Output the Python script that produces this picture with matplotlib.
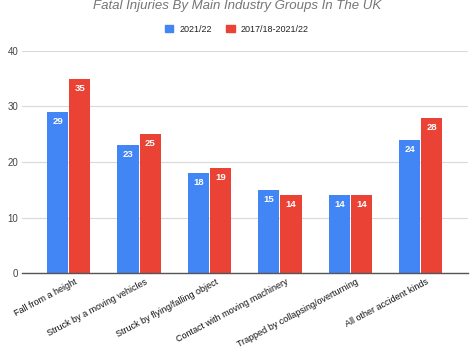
import matplotlib.pyplot as plt
import numpy as np
from matplotlib.patches import Patch

plt.rcParams['font.family'] = ['Liberation Sans', 'DejaVu Sans']

categories = ['Fall from a height', 'Struck by a moving vehicles',
              'Struck by flying/falling object', 'Contact with moving machinery',
              'Trapped by collapsing/overturning', 'All other accident kinds']
recent = [29, 23, 18, 15, 14, 24]
average = [35, 25, 19, 14, 14, 28]
series_names = ['2021/22', '2017/18-2021/22']
yticks = [0, 10, 20, 30, 40]

blue = '#4285F4'
red = '#EA4335'

fig = plt.figure(figsize=(4.74, 3.58), dpi=100)
ax = fig.add_axes([0.046, 0.237, 0.941, 0.621])

x = np.arange(len(categories))
w = 0.30
gap = 0.008
b1 = ax.bar(x - w / 2 - gap, recent, w, color=blue, zorder=3)
b2 = ax.bar(x + w / 2 + gap, average, w, color=red, zorder=3)

for bars, vals in ((b1, recent), (b2, average)):
    for bar, v in zip(bars, vals):
        ax.text(bar.get_x() + bar.get_width() / 2, v - 0.9, str(v),
                ha='center', va='top', fontsize=6.8, color='white',
                fontweight='bold', zorder=4)

ax.set_xlim(-0.667, 5.67)
ax.set_ylim(0, 40)
ax.set_yticks(yticks)
ax.set_yticklabels([str(t) for t in yticks], fontsize=7, color='#444444')
ax.yaxis.grid(True, color='#d9d9d9', linewidth=0.8, zorder=0)
ax.tick_params(axis='y', length=0, pad=2.5)
ax.tick_params(axis='x', length=0, pad=3)
for s in ['top', 'right', 'left']:
    ax.spines[s].set_visible(False)
ax.spines['bottom'].set_color('#555555')
ax.spines['bottom'].set_linewidth(1.0)
ax.spines['bottom'].set_zorder(5)

ax.set_xticks(x + 0.08)
ax.set_xticklabels(categories, rotation=28, ha='right', rotation_mode='anchor',
                   fontsize=6.5, color='#111111')

fig.text(0.5, 1 - 6 / 358, 'Fatal Injuries By Main Industry Groups In The UK',
         ha='center', va='center', fontsize=9.5, style='italic', color='#757575')

handles = [Patch(color=blue), Patch(color=red)]
fig.legend(handles, series_names, loc='center', bbox_to_anchor=(0.5, 1 - 29 / 358),
           ncol=2, frameon=False, fontsize=6.5, handlelength=0.9, handleheight=0.9,
           handletextpad=0.7, columnspacing=1.6, labelcolor='#222222')

fig.savefig('out.png', dpi=100)
